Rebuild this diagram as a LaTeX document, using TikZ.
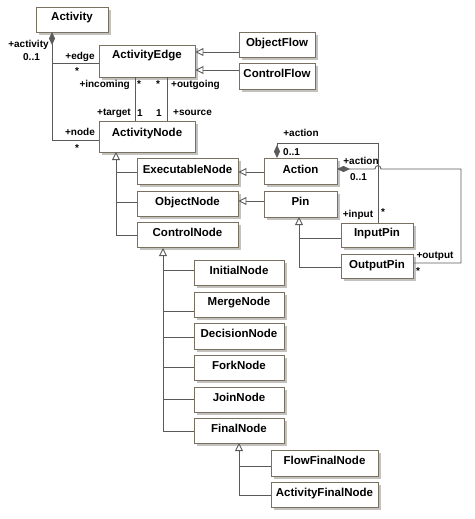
\documentclass[tikz,border=0pt]{standalone}
\usepackage{fontspec}
\setmainfont{Liberation Sans}
\usetikzlibrary{arrows.meta,shadows}
\definecolor{boxc}{HTML}{7A7062}
\definecolor{linec}{HTML}{5A5A5A}
\definecolor{shadc}{HTML}{C4C2BE}
\begin{document}
\begin{tikzpicture}[x=1pt,y=-1pt,
  cls/.style={draw=boxc, fill=white, line width=0.9pt, rectangle, inner sep=0pt,
    font=\fontsize{11.5}{13}\selectfont\bfseries, text height=8pt,
    drop shadow={shadow xshift=3pt, shadow yshift=-3pt, fill=shadc, opacity=1}},
  lbl/.style={inner sep=0pt, font=\fontsize{10}{11}\selectfont\bfseries},
  conn/.style={draw=linec, line width=0.9pt},
  gen/.style={conn, -{Triangle[open, length=8pt, width=8pt, fill=white]}},
  comp/.style={conn, -{Diamond[length=13pt, width=6pt, fill=linec]}}
]
\useasboundingbox (0,0) rectangle (474,519);
% classes
\node[cls, minimum width=72pt, minimum height=25pt, text depth=5pt] (activity) at (72,19.5) {Activity};
\node[cls, minimum width=96pt, minimum height=32pt, text depth=12pt] (aedge) at (147,61) {ActivityEdge};
\node[cls, minimum width=96pt, minimum height=31pt, text depth=9pt] (anode) at (147,136.5) {ActivityNode};
\node[cls, minimum width=76pt, minimum height=25pt, text depth=4pt] (oflow) at (277,44.5) {ObjectFlow};
\node[cls, minimum width=76pt, minimum height=26pt, text depth=5pt] (cflow) at (277,76) {ControlFlow};
\node[cls, minimum width=101pt, minimum height=26pt, text depth=4pt] (exec) at (187.5,171) {ExecutableNode};
\node[cls, minimum width=101pt, minimum height=25pt, text depth=5pt] (onode) at (187.5,203.5) {ObjectNode};
\node[cls, minimum width=101pt, minimum height=25pt, text depth=5pt] (cnode) at (187.5,234.5) {ControlNode};
\node[cls, minimum width=73pt, minimum height=26pt, text depth=4pt] (action) at (300.5,171) {Action};
\node[cls, minimum width=73pt, minimum height=26pt, text depth=6pt] (pin) at (300.5,204) {Pin};
\node[cls, minimum width=72pt, minimum height=24pt, text depth=6pt] (ipin) at (377,235) {InputPin};
\node[cls, minimum width=72pt, minimum height=24pt, text depth=4pt] (opin) at (377,266) {OutputPin};
\node[cls, minimum width=90pt, minimum height=25pt, text depth=5pt] (initial) at (239,272.5) {InitialNode};
\node[cls, minimum width=90pt, minimum height=25pt, text depth=6pt] (merge) at (239,304.5) {MergeNode};
\node[cls, minimum width=90pt, minimum height=26pt, text depth=6pt] (decision) at (239,336) {DecisionNode};
\node[cls, minimum width=90pt, minimum height=25pt, text depth=5pt] (fork) at (239,367.5) {ForkNode};
\node[cls, minimum width=90pt, minimum height=25pt, text depth=5pt] (join) at (239,399.5) {JoinNode};
\node[cls, minimum width=90pt, minimum height=25pt, text depth=5pt] (final) at (239,430.5) {FinalNode};
\node[cls, minimum width=107pt, minimum height=26pt, text depth=6pt] (flowfinal) at (324.5,463) {FlowFinalNode};
\node[cls, minimum width=107pt, minimum height=25pt, text depth=5pt] (actfinal) at (324.5,494.5) {ActivityFinalNode};
% generalizations
\draw[gen] (oflow.west |- 0,52) -- (aedge.east |- 0,52);
\draw[gen] (cflow.west |- 0,70) -- (aedge.east |- 0,70);
\draw[gen] (cnode.west |- 0,235) -- (116,235) -- (116,152);
\draw[conn] (exec.west |- 0,172) -- (116,172);
\draw[conn] (onode.west |- 0,202) -- (116,202);
\draw[gen] (action.west |- 0,172) -- (exec.east |- 0,172);
\draw[gen] (pin.west |- 0,201) -- (onode.east |- 0,201);
\draw[gen] (opin.west |- 0,267) -- (299,267) -- (299,217);
\draw[conn] (ipin.west |- 0,238) -- (299,238);
\draw[gen] (final.west |- 0,431) -- (163,431) -- (163,248);
\draw[conn] (initial.west |- 0,270) -- (163,270);
\draw[conn] (merge.west |- 0,311) -- (163,311);
\draw[conn] (decision.west |- 0,337) -- (163,337);
\draw[conn] (fork.west |- 0,367) -- (163,367);
\draw[conn] (join.west |- 0,399) -- (163,399);
\draw[gen] (actfinal.west |- 0,495) -- (239,495) -- (239,443);
\draw[conn] (flowfinal.west |- 0,466) -- (239,466);
% associations
\draw[comp] (anode.west |- 0,140) -- (52,140) -- (52,32);
\draw[conn] (aedge.west |- 0,63) -- (52,63);
\draw[conn] (aedge.south -| 135,0) -- (anode.north -| 135,0);
\draw[conn] (aedge.south -| 167,0) -- (anode.north -| 167,0);
\draw[comp] (ipin.north -| 378,0) -- (378,143) -- (277,143) -- (277,158);
\draw[comp] (opin.east |- 0,263) -- (461,263) -- (461,169) -- (381,169)
   .. controls (381,164.5) and (375,164.5) .. (375,169) -- (337,169);
% labels
\node[lbl] (l1) at (28.5,45) {+activity};
\node[lbl] (l2) at (31.5,57) {0..1};
\node[lbl] (l3) at (80,57) {+edge};
\node[lbl] (l4) at (77,71) {*};
\node[lbl] (l5) at (80,132) {+node};
\node[lbl] (l6) at (77,148) {*};
\node[lbl, anchor=east] (l7) at (130,85) {+incoming};
\node[lbl] (l8) at (139,84) {*};
\node[lbl] (l9) at (158,84) {*};
\node[lbl, anchor=west] (l10) at (171,85) {+outgoing};
\node[lbl, anchor=east] (l11) at (131,113) {+target};
\node[lbl] (l12) at (140,113) {1};
\node[lbl] (l13) at (159,113) {1};
\node[lbl, anchor=west] (l14) at (173,113) {+source};
\node[lbl] (l15) at (301,133) {+action};
\node[lbl, anchor=west] (l16) at (283,152) {0..1};
\node[lbl] (l17) at (361,161) {+action};
\node[lbl] (l18) at (358.5,177.5) {0..1};
\node[lbl] (l19) at (358,215) {+input};
\node[lbl] (l20) at (383,212) {*};
\node[lbl] (l21) at (435,256) {+output};
\node[lbl] (l22) at (418,271) {*};
\end{tikzpicture}
\end{document}
